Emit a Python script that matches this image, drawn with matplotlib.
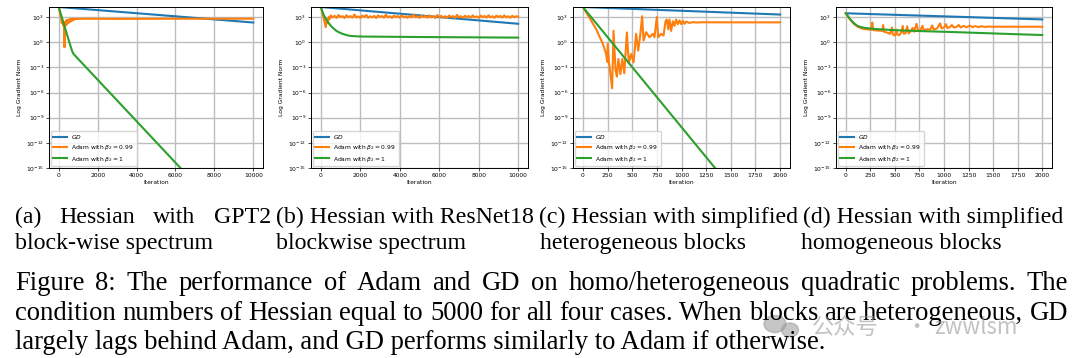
import numpy as np
import matplotlib.pyplot as plt
from matplotlib.patches import Ellipse

# values are log10(gradient norm)
# (a) GPT2 block-wise spectrum
a_gd_x = [0, 10000]
a_gd_y = [4.2, 2.35]
a_adam99_x = [0, 60, 120, 150, 190, 230, 260, 280, 295, 305, 320, 350, 380, 410, 440, 470, 500, 530, 560, 590,
              620, 650, 690, 730, 770, 810, 850, 900, 950, 1000, 1500, 3000, 6000, 10000]
a_adam99_y = [4.2, 3.5, 2.9, 2.3, 2.6, 2.0, 2.4, 1.2, -0.6, 0.8, 2.4, 2.0, 2.6, 2.1, 2.65, 2.25, 2.7, 2.35, 2.75, 2.45,
              2.75, 2.55, 2.8, 2.6, 2.8, 2.7, 2.8, 2.75, 2.8, 2.78, 2.8, 2.78, 2.8, 2.8]
a_adam1_x = [0, 200, 400, 600, 680, 740, 800, 6500]
a_adam1_y = [4.2, 2.66, 1.12, -0.42, -1.0, -1.32, -1.5, -15.6]

# (b) ResNet18 blockwise spectrum
b_gd_x = [0, 10000]
b_gd_y = [4.2, 2.2]
b_adam99_x = [0, 100, 200, 250, 300, 350, 400, 450] + list(range(500, 10001, 100))
b_adam99_y = [4.2, 3.3, 2.3, 1.8, 2.7, 2.3, 3.0, 2.75,
              3.20, 2.95, 3.15, 2.90, 3.25, 3.00, 3.10, 2.88, 3.22, 2.97, 3.12, 2.92, 3.30, 2.95, 3.08, 2.90, 3.18, 3.00, 3.25, 2.92,
              3.10, 2.95, 3.15, 2.88, 3.20, 3.02, 3.12, 2.93, 3.28, 2.96, 3.10, 2.90, 3.17, 3.00, 3.12, 2.92, 3.22, 2.97, 3.08, 2.91,
              3.16, 2.95, 3.30, 2.98, 3.10, 2.90, 3.18, 3.00, 3.12, 2.93, 3.20, 2.96, 3.10, 2.88, 3.24, 3.00, 3.14, 2.94, 3.10, 2.92,
              3.18, 2.98, 3.12, 2.90, 3.26, 2.96, 3.10, 2.92, 3.16, 3.00, 3.12, 2.94, 3.20, 2.97, 3.08, 2.90, 3.18, 2.99, 3.12, 2.93,
              3.22, 2.96, 3.10, 2.91, 3.17, 3.00, 3.13, 2.94, 3.20, 2.97, 3.10, 2.92, 3.15, 2.98, 3.10, 3.05]
b_adam1_x = [0, 100, 200, 300, 420, 550, 760, 900, 1100, 1300, 1500, 2000, 5000, 10000]
b_adam1_y = [4.2, 3.5, 3.0, 2.6, 2.2, 1.85, 1.4, 1.2, 1.0, 0.85, 0.75, 0.68, 0.62, 0.55]

# (c) simplified heterogeneous blocks
c_gd_x = [0, 2000]
c_gd_y = [4.2, 3.3]
c_adam99_x = [0, 68, 135, 203, 236, 247, 253, 264, 297, 311, 331, 345, 360, 380, 400, 420, 446, 466, 490, 514,
              540, 561, 581, 601, 615, 642, 676, 709, 726, 750, 764, 794, 818, 838, 851, 865, 878, 895, 912, 929,
              946, 963, 980, 997, 1014, 1030, 1047, 1081, 1115, 1150, 1200, 1500, 2000]
c_adam99_y = [4.2, 2.9, 1.55, -0.2, -1.4, -2.35, -0.2, -2.35, -5.5, 1.36, -3.3, -4.1, -2.0, -3.8, -2.0, -3.7, 1.16, -2.5, -1.4, -2.4,
              1.0, -1.0, 0.8, 3.1, 0.2, 1.2, 0.6, 1.0, 0.6, 3.0, 0.6, 1.0, 0.8, 2.5, 2.7, 1.55, 2.7, 1.35, 2.5, 1.95,
              2.7, 2.15, 2.6, 2.15, 2.55, 2.2, 2.45, 2.3, 2.4, 2.35, 2.38, 2.37, 2.37]
c_adam1_x = [0, 1400]
c_adam1_y = [4.2, -15.86]

# (d) simplified homogeneous blocks
d_gd_x = [0, 2000]
d_gd_y = [3.45, 2.72]
d_adam99_x = [0, 40, 80, 120, 160, 200, 260, 270, 278, 320, 370, 380, 388, 420, 450, 470, 478, 500, 515, 525,
              545, 565, 580, 590, 610, 625, 640, 660, 680, 695, 720, 735, 760, 780, 795, 830, 860, 880, 895, 930,
              960, 975, 1000, 1020, 1035, 1060, 1080, 1100, 1130, 1150, 1170, 1200, 1230, 1260, 1290, 1320, 1350, 1380, 1420, 1460,
              1500, 1550, 1600, 1700, 1800, 1900, 2000]
d_adam99_y = [3.45, 2.75, 2.2, 1.85, 1.65, 1.55, 1.48, 2.35, 1.45, 1.4, 1.35, 2.05, 1.25, 1.15, 1.0, 1.75, 0.95, 0.8, 1.5, 0.9,
              0.85, 1.2, 1.95, 1.0, 1.1, 1.9, 1.05, 1.3, 1.7, 1.25, 2.2, 1.35, 1.45, 1.95, 1.45, 1.55, 1.5, 2.0, 1.5, 1.65,
              2.25, 1.65, 1.75, 2.15, 1.7, 1.8, 2.05, 1.75, 1.85, 2.05, 1.75, 1.95, 1.78, 1.98, 1.8, 1.92, 1.8, 1.9, 1.82, 1.88,
              1.83, 1.86, 1.84, 1.85, 1.84, 1.85, 1.84]
d_adam1_x = [0, 40, 80, 118, 160, 218, 300, 487, 750, 991, 1250, 1496, 1750, 2000]
d_adam1_y = [3.45, 2.8, 2.3, 1.95, 1.78, 1.67, 1.58, 1.44, 1.33, 1.25, 1.15, 1.05, 0.95, 0.86]

long_ticks = [0, 2000, 4000, 6000, 8000, 10000]
short_ticks = [0, 250, 500, 750, 1000, 1250, 1500, 1750, 2000]

sub_line1 = ["(a) Hessian with GPT2", "(b) Hessian with ResNet18",
             "(c) Hessian with simplified", "(d) Hessian with simplified"]
sub_line2 = ["block-wise spectrum", "blockwise spectrum",
             "heterogeneous blocks", "homogeneous blocks"]
caption = ["Figure 8: The performance of Adam and GD on homo/heterogeneous quadratic problems.  The",
           "condition numbers of Hessian equal to 5000 for all four cases. When blocks are heterogeneous, GD",
           "largely lags behind Adam, and GD performs similarly to Adam if otherwise."]

W, H = 1080, 358
fig = plt.figure(figsize=(W / 100, H / 100), dpi=100)
SERIF = 'Liberation Serif'
FS = 4.3

panels = [
    (a_gd_x, a_gd_y, a_adam99_x, a_adam99_y, a_adam1_x, a_adam1_y, long_ticks, (49, 263)),
    (b_gd_x, b_gd_y, b_adam99_x, b_adam99_y, b_adam1_x, b_adam1_y, long_ticks, (311, 528)),
    (c_gd_x, c_gd_y, c_adam99_x, c_adam99_y, c_adam1_x, c_adam1_y, short_ticks, (573, 790)),
    (d_gd_x, d_gd_y, d_adam99_x, d_adam99_y, d_adam1_x, d_adam1_y, short_ticks, (836, 1052)),
]
top, bottom = 7, 168

for gx, gy, ox, oy, kx, ky, xt, (x0, x1) in panels:
    ax = fig.add_axes([x0 / W, 1 - bottom / H, (x1 - x0) / W, (bottom - top) / H])
    ax.plot(gx, 10 ** np.array(gy), color='C0', lw=1.5, label='$GD$')
    ax.plot(ox, 10 ** np.array(oy), color='C1', lw=1.5, label=r'Adam with $\beta_2 = 0.99$')
    ax.plot(kx, 10 ** np.array(ky), color='C2', lw=1.5, label=r'Adam with $\beta_2 = 1$')
    ax.set_yscale('log')
    ax.set_ylim(1e-15, 10 ** 4.2)
    ax.set_yticks([10.0 ** k for k in range(-15, 4, 3)])
    ax.minorticks_off()
    ax.set_xticks(xt)
    ax.set_xlim(-0.05 * xt[-1], 1.05 * xt[-1])
    ax.grid(True, color='#bdbdbd', lw=1.0)
    ax.tick_params(labelsize=FS, length=2, width=0.5, pad=1.5)
    for sp in ax.spines.values():
        sp.set_linewidth(0.7)
    ax.set_xlabel('Iteration', fontsize=FS, labelpad=1.5)
    ax.set_ylabel('Log Gradient Norm', fontsize=FS, labelpad=2.5)
    ax.legend(loc='lower left', fontsize=FS, borderaxespad=0.3, labelspacing=0.35,
              handlelength=2.2, borderpad=0.45)

r = fig.canvas.get_renderer()


def fit_size(s, target):
    t = fig.text(0, 0, s, fontsize=10, family=SERIF)
    w = t.get_window_extent(r).width
    t.remove()
    return 10 * target / w


def put(s, x, base, size):
    return fig.text(x / W, 1 - base / H, s, fontsize=size, family=SERIF, va='baseline', ha='left')


def justify(line, x0, x1, base, size):
    ts = [put(w, 0, base, size) for w in line.split()]
    ws = [t.get_window_extent(r).width for t in ts]
    gap = (x1 - x0 - sum(ws)) / (len(ts) - 1)
    x = x0
    for t, w in zip(ts, ws):
        t.set_x(x / W)
        x += w + gap


sub_size = fit_size(sub_line1[2], 260)
cap_size = fit_size(caption[2], 813)

justify(sub_line1[0], 15, 271, 223, sub_size)
put(sub_line1[1], 276, 223, sub_size)
put(sub_line1[2], 539, 223, sub_size)
put(sub_line1[3], 803, 223, sub_size)
for s, x in zip(sub_line2, [15, 276, 540, 801]):
    put(s, x, 249, sub_size)

justify(caption[0], 15, 1068, 290, cap_size)
justify(caption[1], 15, 1068, 320, cap_size)
put(caption[2], 15, 349, cap_size)

# faint watermark over the caption
WM = dict(family=['Noto Sans CJK SC', 'DejaVu Sans'], fontsize=16, color='#9a9a9a',
          alpha=0.6, va='center', ha='left')
fig.text(812 / W, 1 - 327 / H, '公众号', **WM)
fig.text(905 / W, 1 - 327 / H, '·', **WM)
fig.text(934 / W, 1 - 327 / H, 'zwwlsm', **WM)
fig.patches.append(Ellipse((775 / W, 1 - 324 / H), 22 / W, 17 / H, transform=fig.transFigure,
                           color='#a0a0a0', alpha=0.6, figure=fig))
fig.patches.append(Ellipse((790 / W, 1 - 330 / H), 17 / W, 14 / H, transform=fig.transFigure,
                           color='#a0a0a0', alpha=0.6, figure=fig))

fig.savefig('out.png', dpi=100)
